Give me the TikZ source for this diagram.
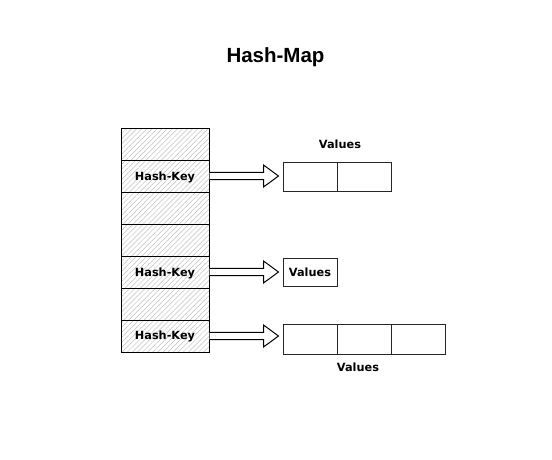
\documentclass[tikz,border=0pt]{standalone}
\usepackage{fontspec}
\setmainfont{DejaVu Sans}
\newfontfamily\titlefont{Liberation Sans}
\usetikzlibrary{patterns.meta,calc}
\begin{document}
\begin{tikzpicture}[x=1pt,y=-1pt,
  cell/.style={draw=black,line width=1pt,minimum width=88pt,minimum height=32pt,inner sep=0pt,
    pattern={Lines[angle=45,distance=3.6pt,line width=0.5pt]},pattern color=black!25},
  vbox/.style={draw=black!85,line width=1pt,minimum width=54pt,minimum height=29pt,inner sep=0pt,fill=white,
    font=\bfseries\fontsize{11.3}{13}\selectfont,text height=8.3pt,text depth=0pt},
  lab/.style={inner sep=0pt,font=\bfseries\fontsize{11.3}{13}\selectfont,text height=8.3pt,text depth=0pt},
  fat/.style={draw=black,line width=1pt,fill=white,line join=miter}]
\useasboundingbox (0,0) rectangle (552,459);
\node[inner sep=0pt,font=\titlefont\bfseries\fontsize{20.5}{24}\selectfont] (title) at (275.5,57) {Hash-Map};
% stack
\node[cell] (c1) at (165,144) {};
\node[cell] (c2) at (165,176) {};
\node[cell] (c3) at (165,208) {};
\node[cell] (c4) at (165,240) {};
\node[cell] (c5) at (165,272) {};
\node[cell] (c6) at (165,304) {};
\node[cell] (c7) at (165,336) {};
\node[lab] (k2) at (165,176.5) {Hash-Key};
\node[lab] (k5) at (165,272.5) {Hash-Key};
\node[lab] (k7) at (165,335.5) {Hash-Key};
% values
\node[vbox] (v1a) at (310,176.5) {};
\node[vbox] (v1b) at (364,176.5) {};
\node[lab] (l1) at (340,144.5) {Values};
\node[vbox,minimum height=28.5pt] (v2) at (310,272.5) {Values};
\node[vbox,minimum height=30pt] (v3a) at (310,339) {};
\node[vbox,minimum height=30pt] (v3b) at (364,339) {};
\node[vbox,minimum height=30pt] (v3c) at (418,339) {};
\node[lab] (l3) at (358,367) {Values};
% arrows
\foreach \s/\t in {c2/v1a,c5/v2,c7/v3a}{
  \path[fat] ($(\s.east)+(0,-3.6)$) -- ($(\s.east -| \t.west)+(-19,-3.6)$) -- ($(\s.east -| \t.west)+(-19,-11)$)
    -- ($(\s.east -| \t.west)+(-4,0)$) -- ($(\s.east -| \t.west)+(-19,11)$) -- ($(\s.east -| \t.west)+(-19,3.6)$)
    -- ($(\s.east)+(0,3.6)$);
}
\end{tikzpicture}
\end{document}
